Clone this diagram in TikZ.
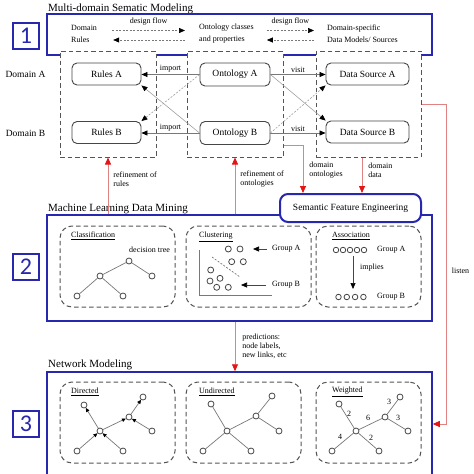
\documentclass[tikz,border=0pt]{standalone}
\usepackage{fontspec}
\setmainfont{Liberation Serif}
\newfontfamily\numfont{Carlito}
\usetikzlibrary{arrows.meta,calc}
\definecolor{bblue}{RGB}{40,40,175}
\definecolor{rline}{RGB}{225,130,130}
\definecolor{rhead}{RGB}{230,20,20}
\definecolor{dgray}{RGB}{70,70,70}
\definecolor{bgray}{RGB}{85,85,85}
\definecolor{mgray}{RGB}{120,120,120}
\definecolor{lgray}{RGB}{160,160,160}
\begin{document}
\begin{tikzpicture}[x=1pt,y=-1pt,
  every node/.style={inner sep=0pt},
  ttl/.style={font=\fontsize{11}{12}\selectfont, anchor=base west},
  lbl/.style={font=\fontsize{9.5}{11}\selectfont},
  sml/.style={font=\fontsize{8}{9}\selectfont},
  smltwo/.style={font=\fontsize{8}{12}\selectfont, align=left},
  smlnine/.style={font=\fontsize{8}{9.5}\selectfont, align=left},
  numbox/.style={draw=bblue, line width=2pt, minimum width=26pt, minimum height=26pt, text=bblue, font=\numfont\fontsize{24}{24}\selectfont},
  bluebox/.style={draw=bblue, line width=1.5pt, fill=white},
  grp/.style={draw=bgray, dash pattern=on 4.5pt off 3pt, line width=1pt, fill=white},
  rgrp/.style={grp, rounded corners=12pt},
  rbox/.style={draw=dgray, rounded corners=5pt, line width=0.9pt, fill=white, lbl},
  conn/.style={draw=mgray, line width=0.7pt, -{Triangle[length=6pt,width=5pt,color=black]}},
  diag/.style={draw=lgray, line width=0.6pt, -{Triangle[length=6pt,width=5pt,color=black]}},
  fdash/.style={dash pattern=on 2pt off 1.5pt},
  dflow/.style={draw=mgray, line width=0.6pt, fdash, -{Triangle[length=6pt,width=5pt,color=black]}},
  blk/.style={draw=dgray, line width=0.7pt, -{Triangle[length=6pt,width=5pt,color=black]}},
  redarr/.style={draw=rline, line width=0.8pt, -{Triangle[length=7pt,width=6pt,color=rhead]}},
  gn/.style={circle, draw=dgray, line width=0.8pt, fill=white, minimum size=6pt},
  an/.style={gn, minimum size=5.5pt},
  ge/.style={draw=mgray, line width=0.7pt},
  dge/.style={ge, -{Triangle[length=4pt,width=3.5pt,color=black]}},
]
\useasboundingbox (0,0) rectangle (474,474);
\fill[white] (0,0) rectangle (474,474);

% ---------- Section 1 ----------
\node[ttl] (t1) at (48,11) {Multi-domain Sematic Modeling};
\node[bluebox, minimum width=385pt, minimum height=41pt] (top) at (239.5,34.5) {};
\node[numbox] (n1) at (26,36) {1};

\node[smltwo, anchor=west] (dr) at (71,34) {Domain\\Rules};
\node[smltwo, anchor=west] (oc) at (199,34) {Ontology classes\\and properties};
\node[smltwo, anchor=west] (dsm) at (327,34) {Domain-specific\\Data Models/ Sources};

\draw[dflow] ([xshift=15pt,yshift=3.5pt]dr.east) -- node[sml, midway, yshift=8.5pt]{design flow} ([xshift=-14pt,yshift=3.5pt]oc.west);
\draw[dflow] ([xshift=-14pt,yshift=-6pt]oc.west) -- ([xshift=16pt,yshift=-6pt]dr.east);
\draw[dflow] ([xshift=13pt,yshift=3.5pt]oc.east) -- node[sml, midway, yshift=8.5pt]{design flow} ([xshift=-13pt,yshift=3.5pt]dsm.west);
\draw[dflow] ([xshift=-13pt,yshift=-6pt]dsm.west) -- ([xshift=13pt,yshift=-6pt]oc.east);

\node[grp, minimum width=96pt, minimum height=106pt] (rg) at (108,104) {};
\node[grp, minimum width=96pt, minimum height=106pt] (og) at (235,104) {};
\node[grp, minimum width=105pt, minimum height=106pt] (dg) at (368.5,104) {};

\node[lbl] (la) at (25.5,74) {Domain A};
\node[lbl] (lb) at (25.5,133) {Domain B};

\node[rbox, minimum width=69pt, minimum height=22pt] (RA) at (106.5,74) {Rules A};
\node[rbox, minimum width=69pt, minimum height=22pt] (RB) at (106.5,132.5) {Rules B};
\node[rbox, minimum width=70pt, minimum height=23pt] (OA) at (235,74.5) {Ontology A};
\node[rbox, minimum width=70pt, minimum height=23pt] (OB) at (235,133) {Ontology B};
\node[rbox, minimum width=83pt, minimum height=22pt] (DA) at (367.5,74) {Data Source A};
\node[rbox, minimum width=83pt, minimum height=22pt] (DB) at (367.5,132) {Data Source B};

\draw[conn] (OA.west) -- node[sml, above=1.5pt]{import} (RA.east |- OA.west);
\draw[conn] (OB.west) -- node[sml, above=1.5pt]{import} (RB.east |- OB.west);
\draw[conn] (OA.east) -- node[sml, above=1.5pt]{visit} (DA.west |- OA.east);
\draw[conn] (OB.east) -- node[sml, above=1.5pt]{visit} (DB.west |- OB.east);
\draw[diag, fdash] (OA.west) -- (RB.north east);
\draw[diag] (OB.west) -- (RA.south east);
\draw[diag] (OA.east) -- (DB.north west);
\draw[diag, fdash] (OB.east) -- (DA.south west);

% ---------- Section 2 ----------
\node[ttl] (t2) at (48,211) {Machine Learning Data Mining};
\node[bluebox, minimum width=385pt, minimum height=106pt] (ml) at (239.5,268) {};
\node[numbox] (n2) at (26,267) {2};
\node[bluebox, line width=2pt, rounded corners=8pt, minimum width=141pt, minimum height=28pt, lbl] (sfe) at (350.5,208) {Semantic Feature Engineering};

\node[rgrp, minimum width=115pt, minimum height=81pt] (cls) at (117.5,266.5) {};
\node[rgrp, minimum width=125pt, minimum height=81pt] (clu) at (248.5,266.5) {};
\node[rgrp, minimum width=105pt, minimum height=81pt] (asc) at (368.5,266.5) {};

\node[sml, anchor=west] (lcls) at (71,236) {\underline{Classification}};
\node[sml, anchor=west] (dt) at (129,250) {decision tree};
\node[gn] (c1) at (129,261) {};
\node[gn] (c2) at (100,276) {};
\node[gn] (c3) at (152,276) {};
\node[gn] (c4) at (77,296) {};
\node[gn] (c5) at (123,296) {};
\draw[ge] (c1)--(c2) (c1)--(c3) (c2)--(c4) (c2)--(c5);

\node[sml, anchor=west] (lclu) at (199,237) {\underline{Clustering}};
\draw[ge] (199,250) -- (199,295) -- (272,295);
\draw[ge, fdash] (212,257) -- (240,277);
\foreach \p [count=\i] in {(228.3,249),(240,249),(231.7,261.7),(243.3,261.7),(210.7,270),(210,281),(220,278.3),(216.7,287.3),(228.3,287.3)}
  \node[gn] (k\i) at \p {};
\node[sml, anchor=west] (ga) at (272,249) {Group A};
\node[sml, anchor=west] (gb) at (272,285) {Group B};
\draw[blk] ([xshift=-5pt]ga.west) -- ([xshift=-19pt]ga.west);
\draw[blk] ([xshift=-6pt]gb.west) -- ([xshift=-31pt]gb.west);

\node[sml, anchor=west] (lasc) at (332,236) {\underline{Association}};
\foreach \i in {0,...,4} \node[an] (a\i) at (336+7*\i,250) {};
\foreach \i in {0,...,3} \node[an] (b\i) at (338.5+8.3*\i,297) {};
\node[sml, anchor=west] (gaa) at (377,250) {Group A};
\node[sml, anchor=west] (gbb) at (377,297) {Group B};
\coordinate (ia) at (353,256);
\coordinate (ib) at (353,289);
\draw[blk] (ia) -- (ib);
\node[sml, anchor=west] (imp) at (360,268) {implies};

% ---------- Section 3 ----------
\node[ttl] (t3) at (48,367) {Network Modeling};
\node[bluebox, minimum width=385pt, minimum height=104pt] (net) at (239.5,424) {};
\node[numbox] (n3) at (26,423.5) {3};

\node[rgrp, minimum width=115pt, minimum height=81pt] (dir) at (117.5,422.5) {};
\node[rgrp, minimum width=115pt, minimum height=81pt] (und) at (243.5,422.5) {};
\node[rgrp, minimum width=105pt, minimum height=81pt] (wgt) at (368.5,422.5) {};

\node[sml, anchor=west] (ldir) at (71,392) {\underline{Directed}};
\node[gn] (d1) at (84,405) {};
\node[gn] (d2) at (129,417) {};
\node[gn] (d3) at (143,397) {};
\node[gn] (d4) at (100,431) {};
\node[gn] (d5) at (152,431) {};
\node[gn] (d6) at (77,451) {};
\node[gn] (d7) at (123,451) {};
\draw[dge] (d6)--(d4);
\draw[dge] (d7)--(d4);
\draw[dge] (d4)--(d1);
\draw[dge] (d4)--(d2);
\draw[dge] (d5)--(d2);
\draw[dge] (d2)--(d3);

\node[sml, anchor=west] (lund) at (199,392) {\underline{Undirected}};
\node[gn] (u1) at (211,404) {};
\node[gn] (u2) at (272,396) {};
\node[gn] (u3) at (256,416) {};
\node[gn] (u4) at (227,431) {};
\node[gn] (u5) at (279,431) {};
\node[gn] (u6) at (203,451) {};
\node[gn] (u7) at (251,451) {};
\draw[ge] (u4)--(u1) (u4)--(u3) (u4)--(u6) (u4)--(u7) (u3)--(u2) (u3)--(u5);

\node[sml, anchor=west] (lwgt) at (332,392) {\underline{Weighted}};
\node[gn] (w1) at (339,404) {};
\node[gn] (w2) at (400,397) {};
\node[gn] (w3) at (385,417) {};
\node[gn] (w4) at (356,431) {};
\node[gn] (w5) at (408,431) {};
\node[gn] (w6) at (332,451) {};
\node[gn] (w7) at (379,451) {};
\draw[ge] (w4)--(w1) (w4)--(w3) (w4)--(w6) (w4)--(w7) (w3)--(w2) (w3)--(w5);
\node[sml] (e1) at (349,414) {2};
\node[sml] (e2) at (368,418) {6};
\node[sml] (e3) at (389,402) {3};
\node[sml] (e4) at (398,418) {3};
\node[sml] (e5) at (340,437) {4};
\node[sml] (e6) at (371,438) {2};

% ---------- Red connectors ----------
\draw[redarr] (rg.south |- ml.north) -- node[smlnine, pos=0.62, anchor=west, xshift=5pt]{refinement of\\rules} (rg.south);
\draw[redarr] (og.south |- ml.north) -- node[smlnine, pos=0.62, anchor=west, xshift=5pt]{refinement of\\ontologies} (og.south);
\draw[redarr] (og.east |- OB.south) -| node[smlnine, pos=0.76, anchor=west, xshift=6pt]{domain\\ontologies} ([xshift=24pt]sfe.north west);
\draw[redarr] ([xshift=-6.5pt]dg.south) -- node[smlnine, pos=0.36, anchor=west, xshift=6pt]{domain\\data} ([xshift=-6.5pt]dg.south |- sfe.north);
\draw[redarr] (dg.east) -- ++(25,0) |- node[sml, pos=0.26, anchor=west, xshift=5pt]{listen} (net.east);
\draw[redarr] ([xshift=-4.5pt]ml.south) -- node[font=\fontsize{8}{8.7}\selectfont, align=left, pos=0.5, anchor=west, xshift=7pt]{predictions:\\node labels,\\new links, etc} ([xshift=-4.5pt]net.north);
\end{tikzpicture}
\end{document}
